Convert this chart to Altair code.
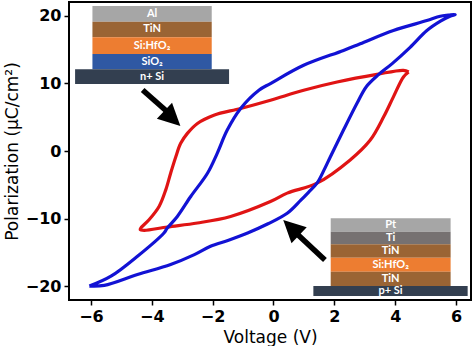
import altair as alt
import pandas as pd

# ---- hysteresis loops (Voltage V, Polarization uC/cm2) ----
blue_v = [-6.05, -5.56, -4.47, -3.38, -2.60, -2.07, -1.50, -0.85, -0.18, 0.45, 0.89, 1.15, 1.43,
          1.65, 1.87, 2.30, 2.74, 3.05, 3.43, 3.90, 4.49, 5.04, 5.50, 5.80, 5.97,
          5.75, 5.48, 5.04, 3.94, 2.85, 2.30, 0.99, -0.10, -0.48, -1.08, -1.52, -1.85, -2.17,
          -2.72, -3.16, -3.49, -3.60, -4.47, -5.34, -6.05]
blue_p = [-19.95, -19.85, -18.24, -16.76, -15.30, -14.07, -13.20, -12.10, -10.75, -9.20, -7.30, -6.10, -4.75,
          -2.90, -0.84, 3.09, 7.01, 9.50, 11.20, 12.90, 15.30, 17.78, 19.20, 19.90, 20.15,
          20.05, 19.90, 19.26, 17.79, 15.84, 14.85, 12.65, 9.96, 8.97, 6.28, 3.09, -0.34, -3.28,
          -6.72, -9.66, -11.37, -12.10, -15.54, -18.49, -19.95]

red_v = [4.44, 4.27, 3.40, 2.09, 0.99, -0.10, -1.08, -1.96, -2.50, -2.83, -3.05, -3.21, -3.38,
         -3.54, -3.76, -4.09, -4.36, -4.38, -4.25, -3.49, -2.50, -1.41, -0.10, 0.45, 1.43,
         2.52, 3.18, 3.62, 3.94, 4.27, 4.44]
red_p = [11.66, 11.91, 11.32, 10.19, 8.97, 7.50, 6.28, 5.29, 4.07, 2.60, 1.13, -0.84, -3.28,
         -5.74, -8.19, -10.15, -11.37, -11.62, -11.72, -11.22, -10.63, -9.66, -7.46, -6.22, -4.75,
         -1.32, 1.62, 5.04, 7.99, 10.93, 11.66]

x_ticks = [-6, -4, -2, 0, 2, 4, 6]
y_ticks = [-20, -10, 0, 10, 20]

# ---- device stack insets ----
tl_names = ["Al", "TiN", "Si:HfO\u2082", "SiO\u2082", "n+ Si"]
tl_x0 = [-5.95, -5.95, -5.95, -5.95, -6.52]
tl_x1 = [-2.03, -2.03, -2.03, -2.03, -1.46]
tl_y0 = [21.42, 19.10, 16.79, 14.33, 12.07]
tl_y1 = [19.10, 16.79, 14.33, 12.07, 9.90]
tl_colors = ["#a6a6a6", "#9a6434", "#ed7d31", "#2f58a3", "#333f50"]

br_names = ["Pt", "Ti", "TiN", "Si:HfO\u2082", "TiN", "p+ Si"]
br_x0 = [1.88, 1.88, 1.88, 1.88, 1.88, 1.31]
br_x1 = [5.82, 5.82, 5.82, 5.82, 5.82, 6.38]
br_y0 = [-9.94, -11.92, -13.78, -15.76, -17.83, -19.94]
br_y1 = [-11.92, -13.78, -15.76, -17.83, -19.94, -21.42]
br_colors = ["#a6a6a6", "#767171", "#9a6434", "#ed7d31", "#9a6434", "#333f50"]

# ---- arrows ----
arr_x0 = [-4.30, 1.69]
arr_y0 = [9.01, -16.10]
arr_x1 = [-3.50, 0.67]
arr_y1 = [5.83, -11.82]
arr_tipx = [-3.06, 0.32]
arr_tipy = [3.69, -10.19]
arr_ang = [133.6, 313.8]

blue_df = pd.DataFrame({"V": blue_v, "P": blue_p, "i": range(len(blue_v))})
red_df = pd.DataFrame({"V": red_v, "P": red_p, "i": range(len(red_v))})
rect_df = pd.DataFrame({
    "name": tl_names + br_names,
    "x0": tl_x0 + br_x0, "x1": tl_x1 + br_x1,
    "y0": tl_y0 + br_y0, "y1": tl_y1 + br_y1,
    "col": tl_colors + br_colors,
})
rect_df["xc"] = (rect_df["x0"] + rect_df["x1"]) / 2
rect_df["yc"] = (rect_df["y0"] + rect_df["y1"]) / 2
arr_df = pd.DataFrame({"x0": arr_x0, "y0": arr_y0, "x1": arr_x1, "y1": arr_y1,
                       "tx": arr_tipx, "ty": arr_tipy, "ang": arr_ang})

xs = alt.Scale(domain=[-6.72, 6.49], nice=False, zero=False)
ys = alt.Scale(domain=[-22, 22], nice=False, zero=False)
xa = alt.Axis(values=x_ticks, title="Voltage (V)", titleY=42, titleBaseline="alphabetic")
ya = alt.Axis(values=y_ticks, title="Polarization (\u03bcC/cm\u00b2)", titleX=-52,
              titleY=149, titleBaseline="alphabetic", titleAlign="center")


def X(f):
    return alt.X(f, type="quantitative", scale=xs, axis=xa)


def Y(f):
    return alt.Y(f, type="quantitative", scale=ys, axis=ya)


red = alt.Chart(red_df).mark_line(color="#e01414", strokeWidth=3.2, interpolate="catmull-rom").encode(
    x=X("V"), y=Y("P"), order="i:Q")
blue = alt.Chart(blue_df).mark_line(color="#1212d4", strokeWidth=3.2, interpolate="catmull-rom").encode(
    x=X("V"), y=Y("P"), order="i:Q")

rects = alt.Chart(rect_df).mark_rect().encode(
    x=X("x0"), x2="x1", y=Y("y0"), y2="y1", color=alt.Color("col:N", scale=None))
labels = alt.Chart(rect_df).mark_text(color="white", font="Lato", fontWeight="bold",
                                      fontSize=11, baseline="middle", align="center").encode(
    x=X("xc"), y=Y("yc"), text="name:N")

shafts = alt.Chart(arr_df).mark_rule(color="black", strokeWidth=5.5).encode(
    x=X("x0"), y=Y("y0"), x2="x1", y2="y1")
heads = alt.Chart(arr_df).mark_point(shape="M0,0L0.5,1L-0.5,1Z", filled=True, color="black",
                                     opacity=1, size=1936, strokeWidth=0).encode(
    x=X("tx"), y=Y("ty"), angle=alt.Angle("ang:Q", scale=None))

chart = alt.layer(red, blue, rects, labels, shafts, heads).properties(
    width=402, height=298,
    autosize=alt.AutoSizeParams(type="none"),
    padding={"left": 69, "top": 2, "right": 3, "bottom": 46},
    background="white",
).configure_view(stroke="black", strokeWidth=2).configure_axis(
    grid=False, domain=False, tickColor="black", tickWidth=1.5, tickSize=5,
    labelFont="DejaVu Sans", labelFontWeight="bold", labelFontSize=16, labelColor="black",
    labelPadding=3, titleFont="DejaVu Sans", titleFontSize=17, titleFontWeight="normal",
    titleColor="black",
)

chart.save("out.html", embed_options={"renderer": "svg", "actions": False})
